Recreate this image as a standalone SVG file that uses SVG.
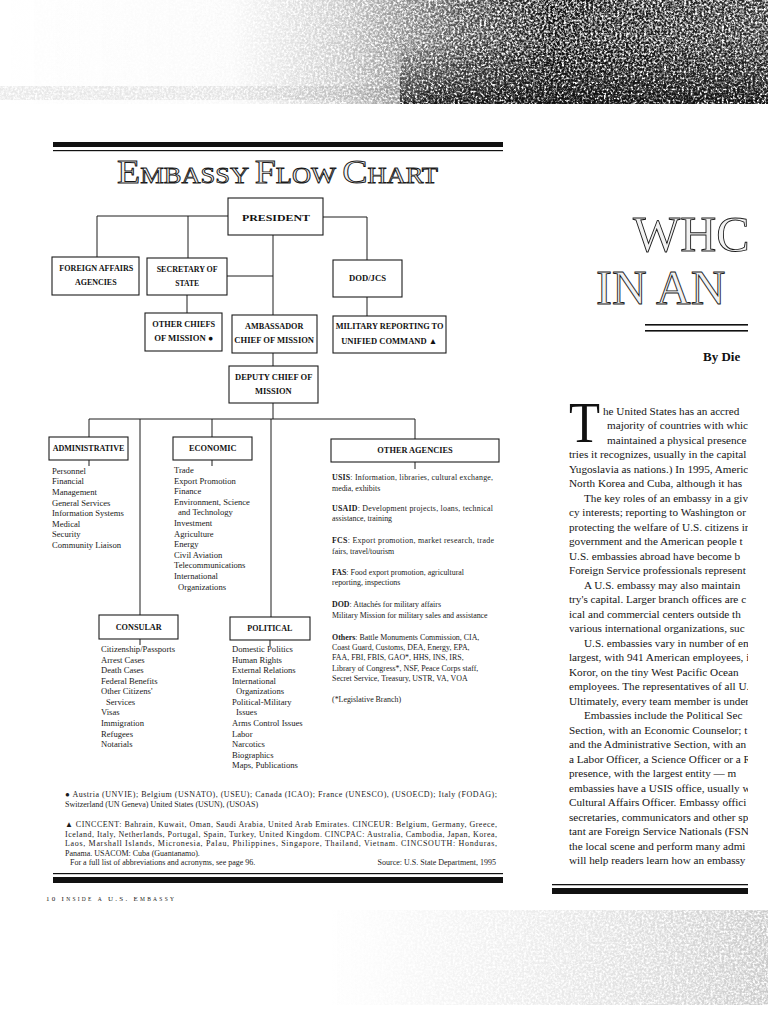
<svg xmlns="http://www.w3.org/2000/svg" width="768" height="1024" viewBox="0 0 768 1024">
<style>
.bx{fill:#fff;stroke:#1c1c1c;stroke-width:1.1}
.cn{fill:none;stroke:#1c1c1c;stroke-width:1}
.lb{font-family:"Liberation Serif",serif;font-weight:bold;font-size:8.6px;fill:#111;text-anchor:middle}
.ls{font-family:"Liberation Serif",serif;font-size:8.6px;fill:#1a1a1a}
.oa{font-family:"Liberation Serif",serif;font-size:7.9px;fill:#1a1a1a}
.fn{font-family:"Liberation Serif",serif;font-size:8px;fill:#1a1a1a}
.bd{font-family:"Liberation Serif",serif;font-size:11.2px;fill:#151515}
.eng{font-family:"Liberation Serif",serif;fill:#f2f2f2;stroke:#1a1a1a;stroke-width:0.9}
</style>
<defs>
<filter id="grain" x="0" y="0" width="1" height="1" filterUnits="objectBoundingBox">
<feTurbulence type="fractalNoise" baseFrequency="0.45" numOctaves="3" seed="4" result="n"/>
<feColorMatrix in="n" type="matrix" values="0 0 0 0 0 0 0 0 0 0 0 0 0 0 0 0 0 0 -2.6 1.95" result="m"/>
<feComposite in="SourceGraphic" in2="m" operator="in"/>
</filter>
<linearGradient id="topH" x1="0" y1="0" x2="1" y2="0">
<stop offset="0" stop-color="#888" stop-opacity="0"/>
<stop offset="0.3" stop-color="#777" stop-opacity="0.04"/>
<stop offset="0.45" stop-color="#444" stop-opacity="0.3"/>
<stop offset="0.6" stop-color="#222" stop-opacity="0.8"/>
<stop offset="0.72" stop-color="#111" stop-opacity="1"/>
<stop offset="1" stop-color="#222" stop-opacity="0.95"/>
</linearGradient>
<linearGradient id="topV" x1="0" y1="0" x2="0" y2="1">
<stop offset="0" stop-color="#111" stop-opacity="0"/>
<stop offset="0.5" stop-color="#111" stop-opacity="0.4"/>
<stop offset="1" stop-color="#0a0a0a" stop-opacity="0.95"/>
</linearGradient>
<linearGradient id="botG" x1="0" y1="0" x2="1" y2="0">
<stop offset="0" stop-color="#999" stop-opacity="0"/>
<stop offset="0.4" stop-color="#999" stop-opacity="0.15"/>
<stop offset="1" stop-color="#666" stop-opacity="0.35"/>
</linearGradient>
<clipPath id="rc"><rect x="525" y="0" width="223" height="1024"/></clipPath>
</defs>
<rect width="768" height="1024" fill="#fff"/>

<g id="scan-noise">
<rect x="0" y="0" width="768" height="104" fill="url(#topH)" filter="url(#grain)"/>
<rect x="400" y="40" width="368" height="64" fill="url(#topV)" filter="url(#grain)"/>
<rect x="0" y="86" width="420" height="14" fill="#888" opacity="0.18" filter="url(#grain)"/>
<rect x="330" y="910" width="438" height="95" fill="url(#botG)" filter="url(#grain)"/>
<path d="M522,100 V1000" stroke="#333" stroke-width="2.5" filter="url(#grain)"/>
<path d="M759,0 V1024" stroke="#333" stroke-width="3" filter="url(#grain)"/>
</g>

<g id="rules">
<rect x="53" y="142" width="450" height="5" fill="#111"/>
<rect x="53" y="150" width="450" height="1.2" fill="#111"/>
<rect x="53" y="873" width="450" height="1.2" fill="#111"/>
<rect x="53" y="877" width="450" height="6" fill="#111"/>
<rect x="645" y="324" width="103" height="1.6" fill="#111"/>
<rect x="645" y="330" width="103" height="1.6" fill="#111"/>
<rect x="552" y="884" width="196" height="1.3" fill="#111"/>
<rect x="552" y="888" width="196" height="6" fill="#111"/>
</g>

<text id="title" class="eng" x="117" y="183.3" textLength="321" lengthAdjust="spacingAndGlyphs"><tspan font-size="33">E</tspan><tspan font-size="23">MBASSY </tspan><tspan font-size="33">F</tspan><tspan font-size="23">LOW </tspan><tspan font-size="33">C</tspan><tspan font-size="23">HART</tspan></text>

<g id="connectors">
<path class="cn" d="M228,216 H97 V257 M188,216 V258 M323,217 H367 V260 M273,235 V315 M227,276 H273 M187,295 V313 M367,297 V316 M273,353 V366 M273,403 V419 M89,419 H415 M89,419 V437 M140,419 V615 M212,419 V437 M271,419 V617 M415,419 V439 M89,460 V466 M212,460 V466 M415,462 V469 M140,639 V645 M270,640 V646"/>
</g>

<g id="president"><rect class="bx" x="228" y="198" width="95" height="37"/><text class="lb" x="276" y="220.5" font-size="13" textLength="68" lengthAdjust="spacingAndGlyphs">PRESIDENT</text></g>
<g id="foreign-affairs"><rect class="bx" x="52" y="257" width="87" height="38"/><text class="lb" x="96.3" y="271.3" textLength="74" lengthAdjust="spacingAndGlyphs">FOREIGN AFFAIRS</text><text class="lb" x="95.8" y="285.3" textLength="41.7" lengthAdjust="spacingAndGlyphs">AGENCIES</text></g>
<g id="secretary"><rect class="bx" x="147" y="258" width="80" height="37"/><text class="lb" x="187.2" y="271.7" textLength="61" lengthAdjust="spacingAndGlyphs">SECRETARY OF</text><text class="lb" x="187.2" y="286" textLength="24" lengthAdjust="spacingAndGlyphs">STATE</text></g>
<g id="dod"><rect class="bx" x="333" y="260" width="69" height="37"/><text class="lb" x="367.5" y="280.7" textLength="37" lengthAdjust="spacingAndGlyphs">DOD/JCS</text></g>
<g id="other-chiefs"><rect class="bx" x="145" y="313" width="77" height="38"/><text class="lb" x="183.7" y="327" textLength="62.7" lengthAdjust="spacingAndGlyphs">OTHER CHIEFS</text><text class="lb" x="183.7" y="341" textLength="59" lengthAdjust="spacingAndGlyphs">OF MISSION ●</text></g>
<g id="ambassador"><rect class="bx" x="232" y="315" width="85" height="38"/><text class="lb" x="274.2" y="328.7" textLength="58.3" lengthAdjust="spacingAndGlyphs">AMBASSADOR</text><text class="lb" x="274.2" y="343" textLength="79.7" lengthAdjust="spacingAndGlyphs">CHIEF OF MISSION</text></g>
<g id="military"><rect class="bx" x="333" y="316" width="113" height="37"/><text class="lb" x="389.5" y="329" textLength="107.7" lengthAdjust="spacingAndGlyphs">MILITARY REPORTING TO</text><text class="lb" x="389.2" y="343.7" textLength="96" lengthAdjust="spacingAndGlyphs">UNIFIED COMMAND ▲</text></g>
<g id="deputy"><rect class="bx" x="229" y="366" width="89" height="37"/><text class="lb" x="273.7" y="379.7" textLength="77.3" lengthAdjust="spacingAndGlyphs">DEPUTY CHIEF OF</text><text class="lb" x="273.3" y="394" textLength="36.7" lengthAdjust="spacingAndGlyphs">MISSION</text></g>
<g id="administrative"><rect class="bx" x="49" y="437" width="79" height="23"/><text class="lb" x="88.5" y="450.7" textLength="71.7" lengthAdjust="spacingAndGlyphs">ADMINISTRATIVE</text></g>
<g id="economic"><rect class="bx" x="173" y="437" width="79" height="23"/><text class="lb" x="212.8" y="450.7" textLength="47.7" lengthAdjust="spacingAndGlyphs">ECONOMIC</text></g>
<g id="other-agencies"><rect class="bx" x="331" y="439" width="168" height="23"/><text class="lb" x="415" y="453" textLength="75.3" lengthAdjust="spacingAndGlyphs">OTHER AGENCIES</text></g>
<g id="consular"><rect class="bx" x="99" y="615" width="79" height="24"/><text class="lb" x="138.7" y="630.3" textLength="46" lengthAdjust="spacingAndGlyphs">CONSULAR</text></g>
<g id="political"><rect class="bx" x="230" y="617" width="80" height="23"/><text class="lb" x="269.8" y="631" textLength="45" lengthAdjust="spacingAndGlyphs">POLITICAL</text></g>

<g id="admin-list" class="ls">
<text x="52" y="473.7">Personnel</text>
<text x="52" y="484.3">Financial</text>
<text x="52" y="494.9">Management</text>
<text x="52" y="505.5">General Services</text>
<text x="52" y="516.1">Information Systems</text>
<text x="52" y="526.7">Medical</text>
<text x="52" y="537.3">Security</text>
<text x="52" y="547.9">Community Liaison</text>
</g>
<g id="economic-list" class="ls">
<text x="174" y="473">Trade</text>
<text x="174" y="483.6">Export Promotion</text>
<text x="174" y="494.2">Finance</text>
<text x="174" y="504.8">Environment, Science</text>
<text x="178" y="515.4">and Technology</text>
<text x="174" y="526">Investment</text>
<text x="174" y="536.6">Agriculture</text>
<text x="174" y="547.2">Energy</text>
<text x="174" y="557.8">Civil Aviation</text>
<text x="174" y="568.4">Telecommunications</text>
<text x="174" y="579">International</text>
<text x="178" y="589.6">Organizations</text>
</g>
<g id="consular-list" class="ls">
<text x="101" y="652">Citizenship/Passports</text>
<text x="101" y="662.6">Arrest Cases</text>
<text x="101" y="673.1">Death Cases</text>
<text x="101" y="683.7">Federal Benefits</text>
<text x="101" y="694.2">Other Citizens'</text>
<text x="106" y="704.8">Services</text>
<text x="101" y="715.4">Visas</text>
<text x="101" y="725.9">Immigration</text>
<text x="101" y="736.5">Refugees</text>
<text x="101" y="747">Notarials</text>
</g>
<g id="political-list" class="ls">
<text x="232" y="652">Domestic Politics</text>
<text x="232" y="662.6">Human Rights</text>
<text x="232" y="673.1">External Relations</text>
<text x="232" y="683.7">International</text>
<text x="236" y="694.2">Organizations</text>
<text x="232" y="704.8">Political-Military</text>
<text x="236" y="715.4">Issues</text>
<text x="232" y="725.9">Arms Control Issues</text>
<text x="232" y="736.5">Labor</text>
<text x="232" y="747">Narcotics</text>
<text x="232" y="757.6">Biographics</text>
<text x="232" y="768.2">Maps, Publications</text>
</g>
<g id="agencies-list" class="oa">
<text x="332" y="480" textLength="161"><tspan font-weight="bold">USIS</tspan>: Information, libraries, cultural exchange,</text>
<text x="332" y="491">media, exhibits</text>
<text x="332" y="511" textLength="161"><tspan font-weight="bold">USAID</tspan>: Development projects, loans, technical</text>
<text x="332" y="521">assistance, training</text>
<text x="332" y="543" textLength="162"><tspan font-weight="bold">FCS</tspan>:  Export promotion, market research, trade</text>
<text x="332" y="554">fairs, travel/tourism</text>
<text x="332" y="575"><tspan font-weight="bold">FAS</tspan>: Food export promotion, agricultural</text>
<text x="332" y="585">reporting, inspections</text>
<text x="332" y="607"><tspan font-weight="bold">DOD</tspan>: Attachés for military affairs</text>
<text x="332" y="618">Military Mission for military sales and assistance</text>
<text x="332" y="640"><tspan font-weight="bold">Others</tspan>: Battle Monuments Commission, CIA,</text>
<text x="332" y="650">Coast Guard, Customs, DEA, Energy, EPA,</text>
<text x="332" y="660">FAA, FBI, FBIS, GAO*, HHS, INS, IRS,</text>
<text x="332" y="671">Library of Congress*, NSF, Peace Corps staff,</text>
<text x="332" y="681">Secret Service, Treasury, USTR, VA, VOA</text>
<text x="332" y="702">(*Legislative Branch)</text>
</g>

<g id="footnotes" class="fn">
<text x="65" y="797" textLength="432" lengthAdjust="spacing">● Austria (UNVIE); Belgium (USNATO), (USEU); Canada (ICAO); France (UNESCO), (USOECD); Italy (FODAG);</text>
<text x="65" y="807">Switzerland (UN Geneva) United States (USUN), (USOAS)</text>
<text x="65" y="827" textLength="432" lengthAdjust="spacing">▲ CINCCENT: Bahrain, Kuwait, Oman, Saudi Arabia, United Arab Emirates.  CINCEUR:  Belgium, Germany, Greece,</text>
<text x="65" y="836.5" textLength="432" lengthAdjust="spacing">Iceland, Italy, Netherlands, Portugal, Spain, Turkey, United Kingdom.  CINCPAC:  Australia, Cambodia, Japan, Korea,</text>
<text x="65" y="846" textLength="432" lengthAdjust="spacing">Laos, Marshall Islands, Micronesia, Palau, Philippines, Singapore, Thailand, Vietnam.  CINCSOUTH:  Honduras,</text>
<text x="65" y="855.5">Panama.  USACOM: Cuba (Guantanamo).</text>
<text x="70" y="864.5">For a full list of abbreviations and acronyms, see page 96.</text>
<text x="496" y="864.5" text-anchor="end">Source: U.S. State Department, 1995</text>
</g>
<text id="folio" x="46" y="900.5" font-family="Liberation Serif, serif" font-size="7px" fill="#222" textLength="128" lengthAdjust="spacing">10 I<tspan font-size="5.5px">NSIDE</tspan> <tspan font-size="5.5px">A</tspan> U.S. E<tspan font-size="5.5px">MBASSY</tspan></text>

<g id="article" clip-path="url(#rc)">
<text class="eng" x="633" y="251" font-size="50">WHC</text>
<text class="eng" x="596" y="304" font-size="48">IN AN</text>
<text x="703" y="361" font-family="Liberation Serif, serif" font-weight="bold" font-size="13px" fill="#111">By Die</text>
<text x="569" y="442" font-family="Liberation Serif, serif" font-size="58px" fill="#111" textLength="31" lengthAdjust="spacingAndGlyphs">T</text>
<g class="bd">
<text x="603" y="414.5">he United States has an accred</text>
<text x="607" y="429">majority of countries with whic</text>
<text x="607" y="443.5">maintained a physical presence i</text>
<text x="569" y="458">tries it recognizes, usually in the capital</text>
<text x="569" y="472.5">Yugoslavia as nations.) In 1995, Americ</text>
<text x="569" y="487">North Korea and Cuba, although it has</text>
<text x="584" y="501.5">The key roles of an embassy in a giv</text>
<text x="569" y="516">cy interests; reporting to Washington or</text>
<text x="569" y="530.5">protecting the welfare of U.S. citizens in</text>
<text x="569" y="545">government and the American people t</text>
<text x="569" y="559.5">U.S. embassies abroad have become b</text>
<text x="569" y="574">Foreign Service professionals represent o</text>
<text x="584" y="588.5">A U.S. embassy may also maintain</text>
<text x="569" y="603">try's capital. Larger branch offices are c</text>
<text x="569" y="617.5">ical and commercial centers outside th</text>
<text x="569" y="632">various international organizations, suc</text>
<text x="584" y="646.5">U.S. embassies vary in number of em</text>
<text x="569" y="661">largest, with 941 American employees, i</text>
<text x="569" y="675.5">Koror, on the tiny West Pacific Ocean</text>
<text x="569" y="690">employees. The representatives of all U.</text>
<text x="569" y="704.5">Ultimately, every team member is under</text>
<text x="584" y="719">Embassies include the Political Sec</text>
<text x="569" y="733.5">Section, with an Economic Counselor; t</text>
<text x="569" y="748">and the Administrative Section, with an</text>
<text x="569" y="762.5">a Labor Officer, a Science Officer or a R</text>
<text x="569" y="777">presence, with the largest entity — m</text>
<text x="569" y="791.5">embassies have a USIS office, usually w</text>
<text x="569" y="806">Cultural Affairs Officer. Embassy offici</text>
<text x="569" y="820.5">secretaries, communicators and other sp</text>
<text x="569" y="835">tant are Foreign Service Nationals (FSN</text>
<text x="569" y="849.5">the local scene and perform many admi</text>
<text x="569" y="864">will help readers learn how an embassy w</text>
</g>
</g>
</svg>
